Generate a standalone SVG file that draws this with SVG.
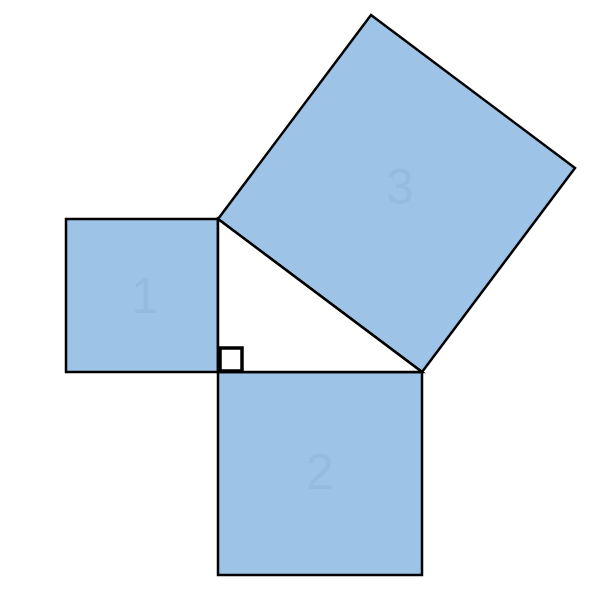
<svg xmlns="http://www.w3.org/2000/svg" width="600" height="597" viewBox="0 0 600 597">
<style>
.sq{fill:#9dc3e6;stroke:#000;stroke-width:2.5;stroke-linejoin:miter}
.lbl{font-family:"Liberation Sans",Arial,sans-serif;font-size:50px;fill:#96bbe0;text-anchor:middle;dominant-baseline:central}
</style>
<rect width="600" height="597" fill="#fff"/>
<g id="square1">
<rect class="sq" x="66" y="219" width="152" height="153"/>
<text class="lbl" x="145" y="296">1</text>
</g>
<g id="square2">
<rect class="sq" x="218" y="372" width="204" height="203"/>
<text class="lbl" x="320" y="472">2</text>
</g>
<g id="square3">
<polygon class="sq" points="218,219 422,372 575,168 371,15"/>
<text class="lbl" x="400" y="187">3</text>
</g>
<g id="triangle">
<polygon points="218,219 218,372 422,372" fill="#fff" stroke="#000" stroke-width="2.5"/>
<rect x="220" y="348" width="22" height="23" fill="none" stroke="#000" stroke-width="3.5"/>
</g>
</svg>
